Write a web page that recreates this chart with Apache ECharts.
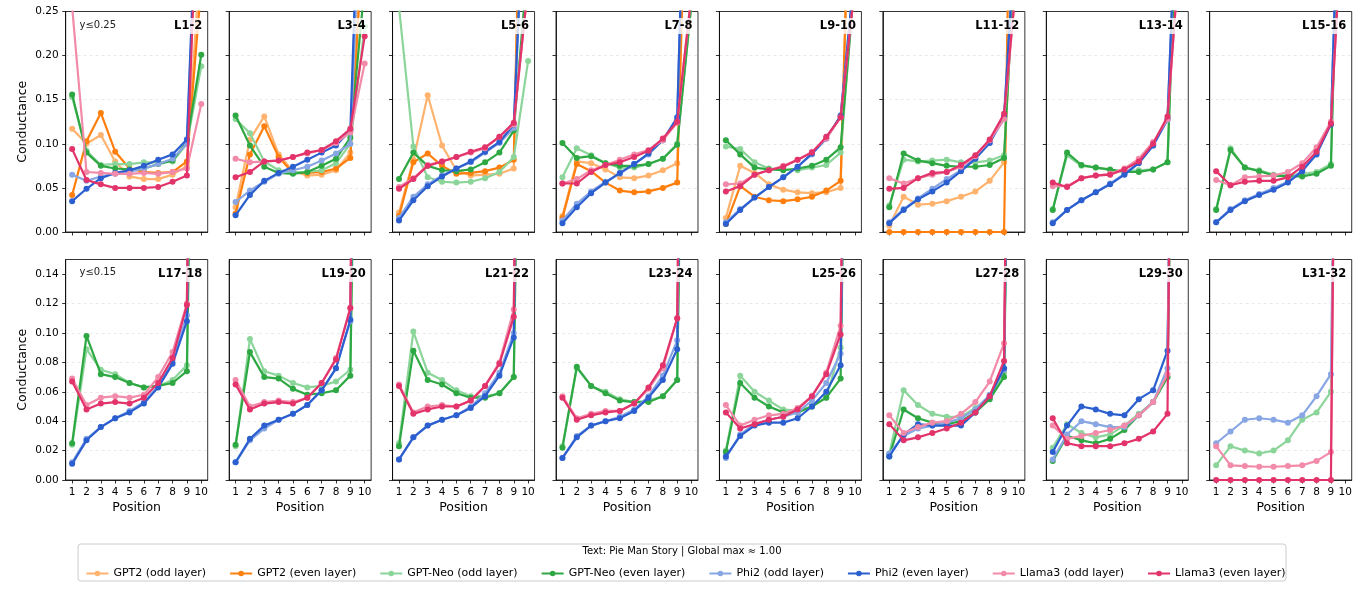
<!DOCTYPE html>
<html>
<head>
<meta charset="utf-8">
<script src="https://cdn.jsdelivr.net/npm/echarts@6/dist/echarts.min.js"></script>
<style>
html,body{margin:0;padding:0;background:#fff;}
#chart{width:1371px;height:614px;}
</style>
</head>
<body>
<div id="chart"></div>
<script>
// ---------------- DATA ----------------
const positions = [1, 2, 3, 4, 5, 6, 7, 8, 9, 10];
const panelTitles = ['L1-2','L3-4','L5-6','L7-8','L9-10','L11-12','L13-14','L15-16',
                     'L17-18','L19-20','L21-22','L23-24','L25-26','L27-28','L29-30','L31-32'];
const yTicksTop = [0, 0.05, 0.10, 0.15, 0.20, 0.25];
const yTicksBottom = [0, 0.02, 0.04, 0.06, 0.08, 0.10, 0.12, 0.14];
const seriesNames = ['GPT2 (odd layer)','GPT2 (even layer)','GPT-Neo (odd layer)','GPT-Neo (even layer)',
                     'Phi2 (odd layer)','Phi2 (even layer)','Llama3 (odd layer)','Llama3 (even layer)'];
const chartTitle = 'Text: Pie Man Story | Global max ≈ 1.00';

// one row per panel (L1-2 ... L31-32), values at positions 1..10
const gpt2Odd = [
  [0.117,0.100,0.110,0.080,0.063,0.060,0.060,0.065,0.075,0.33],
  [0.028,0.105,0.131,0.088,0.069,0.064,0.065,0.070,0.090,0.40],
  [0.022,0.082,0.155,0.098,0.070,0.064,0.065,0.066,0.072,0.80],
  [0.018,0.080,0.078,0.071,0.062,0.061,0.064,0.070,0.078,0.64],
  [0.016,0.075,0.067,0.054,0.048,0.045,0.044,0.045,0.050,0.60],
  [0.007,0.040,0.031,0.032,0.035,0.040,0.046,0.058,0.079,0.40],
  null,null,null,null,null,null,null,null,null,null
];
const gpt2Even = [
  [0.042,0.103,0.135,0.091,0.072,0.068,0.067,0.068,0.080,0.28],
  [0.021,0.088,0.120,0.085,0.067,0.067,0.068,0.072,0.084,0.37],
  [0.018,0.079,0.089,0.075,0.066,0.067,0.069,0.073,0.082,0.81],
  [0.016,0.077,0.069,0.056,0.047,0.045,0.046,0.050,0.056,0.64],
  [0.009,0.052,0.040,0.036,0.035,0.037,0.040,0.047,0.058,0.63],
  [0,0,0,0,0,0,0,0,0,1.0],
  null,null,null,null,null,null,null,null,null,null
];
const neoOdd = [
  [0.153,0.092,0.076,0.077,0.077,0.079,0.079,0.080,0.100,0.188],
  [0.128,0.112,0.080,0.070,0.068,0.068,0.070,0.078,0.100,0.233],
  [0.255,0.097,0.062,0.057,0.056,0.057,0.061,0.068,0.085,0.194],
  [0.062,0.095,0.087,0.078,0.073,0.073,0.077,0.083,0.100,0.26],
  [0.097,0.094,0.079,0.072,0.071,0.070,0.073,0.076,0.090,0.29],
  [0.030,0.082,0.080,0.081,0.082,0.079,0.079,0.081,0.087,0.39],
  [0.026,0.087,0.075,0.073,0.070,0.069,0.070,0.071,0.079,0.53],
  [0.026,0.095,0.073,0.070,0.065,0.064,0.066,0.068,0.077,0.66],
  [0.024,0.089,0.075,0.072,0.066,0.063,0.064,0.068,0.078,0.75],
  [0.023,0.096,0.074,0.071,0.066,0.063,0.064,0.067,0.075,0.75],
  [0.025,0.101,0.073,0.068,0.061,0.057,0.057,0.059,0.070,0.75],
  [0.023,0.076,0.064,0.060,0.055,0.053,0.054,0.057,0.068,0.75],
  [0.020,0.071,0.060,0.054,0.048,0.047,0.050,0.056,0.090,0.75],
  [0.018,0.061,0.051,0.045,0.043,0.043,0.049,0.056,0.073,0.75],
  [0.022,0.038,0.032,0.029,0.031,0.037,0.045,0.053,0.070,0.75],
  [0.010,0.023,0.020,0.018,0.020,0.027,0.041,0.046,0.060,0.75]
];
const neoEven = [
  [0.156,0.090,0.075,0.072,0.071,0.072,0.077,0.081,0.102,0.201],
  [0.132,0.098,0.074,0.067,0.066,0.068,0.075,0.083,0.107,0.28],
  [0.060,0.090,0.075,0.070,0.069,0.071,0.079,0.090,0.115,0.31],
  [0.101,0.084,0.086,0.078,0.075,0.075,0.077,0.083,0.099,0.26],
  [0.104,0.088,0.073,0.071,0.070,0.072,0.075,0.082,0.096,0.29],
  [0.028,0.089,0.081,0.078,0.075,0.074,0.074,0.076,0.084,0.39],
  [0.025,0.090,0.076,0.073,0.071,0.068,0.068,0.071,0.079,0.53],
  [0.025,0.093,0.073,0.069,0.064,0.063,0.063,0.066,0.075,0.66],
  [0.025,0.098,0.072,0.070,0.066,0.063,0.064,0.066,0.074,0.70],
  [0.024,0.087,0.070,0.069,0.062,0.058,0.059,0.061,0.071,0.70],
  [0.023,0.088,0.068,0.065,0.059,0.056,0.056,0.059,0.070,0.70],
  [0.022,0.077,0.064,0.059,0.054,0.053,0.053,0.057,0.068,0.70],
  [0.019,0.066,0.056,0.050,0.046,0.046,0.050,0.056,0.069,0.70],
  [0.016,0.048,0.042,0.039,0.038,0.040,0.046,0.055,0.070,0.70],
  [0.013,0.030,0.027,0.025,0.028,0.034,0.044,0.053,0.070,0.70],
  null
];
const phiOdd = [
  [0.065,0.058,0.063,0.066,0.068,0.072,0.077,0.083,0.100,0.50],
  [0.034,0.047,0.057,0.066,0.070,0.074,0.081,0.089,0.100,0.50],
  [0.016,0.040,0.054,0.064,0.072,0.079,0.090,0.101,0.118,0.49],
  [0.013,0.032,0.046,0.057,0.066,0.077,0.088,0.104,0.128,0.70],
  [0.011,0.026,0.039,0.051,0.062,0.074,0.088,0.106,0.131,0.30],
  [0.011,0.026,0.038,0.049,0.060,0.070,0.084,0.102,0.128,0.40],
  [0.011,0.025,0.036,0.045,0.055,0.066,0.079,0.098,0.127,0.54],
  [0.011,0.026,0.036,0.043,0.050,0.057,0.070,0.090,0.123,0.65],
  [0.012,0.028,0.036,0.042,0.047,0.053,0.064,0.081,0.112,0.80],
  [0.012,0.027,0.035,0.041,0.045,0.051,0.061,0.076,0.108,0.80],
  [0.014,0.029,0.037,0.041,0.044,0.050,0.059,0.073,0.100,0.80],
  [0.015,0.030,0.037,0.040,0.043,0.048,0.057,0.071,0.095,0.80],
  [0.015,0.031,0.038,0.041,0.043,0.046,0.054,0.066,0.086,0.80],
  [0.018,0.030,0.035,0.037,0.039,0.042,0.048,0.058,0.075,0.80],
  [0.014,0.031,0.040,0.038,0.036,0.036,0.044,0.053,0.076,0.80],
  [0.025,0.033,0.041,0.042,0.041,0.039,0.044,0.057,0.072,0.80]
];
const phiEven = [
  [0.035,0.049,0.061,0.067,0.070,0.075,0.082,0.088,0.105,0.52],
  [0.019,0.042,0.058,0.067,0.074,0.082,0.090,0.098,0.115,0.60],
  [0.013,0.036,0.052,0.063,0.072,0.080,0.091,0.102,0.122,0.49],
  [0.010,0.028,0.044,0.056,0.067,0.077,0.089,0.104,0.130,0.70],
  [0.009,0.025,0.039,0.051,0.062,0.074,0.089,0.106,0.132,0.30],
  [0.010,0.025,0.037,0.046,0.056,0.069,0.083,0.101,0.131,0.40],
  [0.010,0.025,0.036,0.045,0.054,0.065,0.078,0.098,0.128,0.54],
  [0.011,0.025,0.035,0.042,0.048,0.056,0.069,0.088,0.122,0.65],
  [0.011,0.027,0.036,0.042,0.046,0.052,0.063,0.079,0.108,0.80],
  [0.012,0.028,0.037,0.041,0.045,0.051,0.061,0.076,0.109,0.80],
  [0.014,0.029,0.037,0.041,0.044,0.049,0.057,0.071,0.097,0.80],
  [0.015,0.029,0.037,0.040,0.042,0.047,0.056,0.068,0.089,0.80],
  [0.016,0.030,0.037,0.039,0.039,0.042,0.050,0.060,0.078,0.80],
  [0.016,0.031,0.038,0.037,0.037,0.037,0.046,0.057,0.076,0.80],
  [0.019,0.037,0.050,0.048,0.045,0.044,0.055,0.061,0.088,0.80],
  null
];
const llamaOdd = [
  [0.255,0.068,0.067,0.066,0.066,0.067,0.066,0.068,0.072,0.145],
  [0.083,0.079,0.080,0.081,0.085,0.089,0.093,0.101,0.113,0.191],
  [0.051,0.061,0.076,0.080,0.085,0.090,0.095,0.108,0.122,0.28],
  [0.055,0.060,0.070,0.076,0.082,0.088,0.093,0.104,0.124,0.27],
  [0.054,0.055,0.065,0.070,0.075,0.082,0.091,0.106,0.130,0.28],
  [0.061,0.055,0.061,0.065,0.068,0.074,0.086,0.104,0.128,0.31],
  [0.052,0.052,0.061,0.064,0.066,0.072,0.083,0.102,0.128,0.35],
  [0.059,0.053,0.062,0.063,0.064,0.068,0.078,0.096,0.125,0.42],
  [0.069,0.051,0.056,0.057,0.056,0.058,0.070,0.087,0.120,0.90],
  [0.068,0.050,0.053,0.054,0.053,0.056,0.066,0.083,0.117,0.90],
  [0.065,0.046,0.050,0.051,0.050,0.054,0.064,0.080,0.116,0.90],
  [0.057,0.042,0.045,0.047,0.047,0.052,0.062,0.076,0.110,0.90],
  [0.051,0.037,0.041,0.044,0.045,0.049,0.057,0.073,0.105,0.90],
  [0.044,0.032,0.036,0.039,0.040,0.045,0.053,0.067,0.093,0.90],
  [0.037,0.028,0.030,0.032,0.034,0.037,0.044,0.053,0.072,0.90],
  [0.023,0.010,0.0095,0.009,0.009,0.0095,0.010,0.013,0.019,0.90]
];
const llamaEven = [
  [0.094,0.059,0.054,0.050,0.050,0.050,0.051,0.057,0.064,0.51],
  [0.062,0.068,0.080,0.081,0.085,0.090,0.093,0.103,0.117,0.222],
  [0.049,0.060,0.075,0.080,0.085,0.091,0.096,0.108,0.124,0.28],
  [0.055,0.055,0.068,0.076,0.079,0.085,0.092,0.106,0.125,0.27],
  [0.046,0.052,0.065,0.070,0.074,0.082,0.090,0.108,0.130,0.28],
  [0.049,0.050,0.061,0.067,0.068,0.076,0.087,0.105,0.134,0.31],
  [0.056,0.051,0.061,0.064,0.065,0.071,0.080,0.100,0.131,0.35],
  [0.069,0.053,0.057,0.058,0.058,0.062,0.074,0.091,0.123,0.42],
  [0.067,0.048,0.052,0.053,0.052,0.056,0.066,0.083,0.119,1.0],
  [0.065,0.048,0.052,0.053,0.052,0.056,0.066,0.082,0.117,1.0],
  [0.064,0.045,0.048,0.050,0.050,0.054,0.064,0.079,0.111,1.0],
  [0.056,0.041,0.044,0.046,0.047,0.052,0.063,0.078,0.110,1.0],
  [0.046,0.035,0.038,0.041,0.043,0.048,0.057,0.072,0.099,1.0],
  [0.038,0.027,0.029,0.032,0.035,0.039,0.046,0.057,0.081,1.0],
  [0.042,0.025,0.023,0.023,0.023,0.025,0.028,0.033,0.045,1.0],
  [0,0,0,0,0,0,0,0,0,1.0]
];

// ---------------- STYLE / LAYOUT ----------------
const seriesData = [gpt2Odd, gpt2Even, neoOdd, neoEven, phiOdd, phiEven, llamaOdd, llamaEven];
const colors = ['#ffb36e','#ff7f0e','#8cd59a','#2ea843','#88a6e4','#2b5fd0','#f28ba9','#e2336a'];
const FONT = 'DejaVu Sans';
const gridLeft0 = 65.7, gridStep = 163.43, gridW = 142;
const rowTop = [11.5, 259.5], gridH = 220.5;
const rowMax = [0.25, 0.15];
const rowTicks = [yTicksTop, yTicksBottom];
const rowInterval = [0.05, 0.02];

const grids = [], xAxes = [], yAxes = [], series = [], graphics = [];
for (let p = 0; p < 16; p++) {
  const row = Math.floor(p / 8), col = p % 8;
  const left = gridLeft0 + col * gridStep, top = rowTop[row];
  grids.push({left: left, top: top, width: gridW, height: gridH,
    show: true, borderColor: '#000', borderWidth: 0.8, backgroundColor: 'transparent', containLabel: false});
  xAxes.push({
    type: 'value', gridIndex: p, min: 0.55, max: 10.45,
    axisLine: {show: true, onZero: false, lineStyle: {color: '#000', width: 0.8}},
    axisTick: {show: true, length: 3.5, customValues: positions, lineStyle: {color: '#000', width: 0.8}},
    axisLabel: {show: row === 1, customValues: positions, margin: 7, fontSize: 10.5, color: '#000', fontFamily: FONT},
    splitLine: {show: false},
    name: row === 1 ? 'Position' : '', nameLocation: 'middle', nameGap: 21,
    nameTextStyle: {fontSize: 12.5, color: '#000', fontFamily: FONT}
  });
  yAxes.push({
    type: 'value', gridIndex: p, min: 0, max: rowMax[row], interval: rowInterval[row],
    axisLine: {show: true, lineStyle: {color: '#000', width: 0.8}},
    axisTick: {show: true, length: 3.5, customValues: rowTicks[row], lineStyle: {color: '#000', width: 0.8}},
    axisLabel: {show: col === 0, customValues: rowTicks[row], showMaxLabel: true, showMinLabel: true, margin: 7,
      fontSize: 10.5, color: '#000', fontFamily: FONT, formatter: v => v.toFixed(2)},
    splitLine: {show: true, showMaxLine: false, showMinLine: false,
      lineStyle: {color: '#dcdcdc', width: 0.6, type: [3, 3]}},
    name: col === 0 ? 'Conductance' : '', nameLocation: 'middle', nameGap: 36, nameRotate: 90,
    nameTextStyle: {fontSize: 12.5, color: '#000', fontFamily: FONT}
  });
  for (let s = 0; s < 8; s++) {
    const vals = seriesData[s][p];
    if (!vals) continue;
    series.push({
      type: 'line', name: seriesNames[s], xAxisIndex: p, yAxisIndex: p,
      data: positions.map((x, k) => [x, vals[k]]),
      symbol: 'circle', symbolSize: 6, showSymbol: true, clip: true,
      lineStyle: {width: 2.2, color: colors[s]}, itemStyle: {color: colors[s]},
      emphasis: {disabled: true}, animation: false, z: 2 + s
    });
  }
  graphics.push({
    type: 'text', z: 100, x: left + gridW - 3.5, y: top + (row === 0 ? 14.5 : 14.5),
    style: {text: panelTitles[p], font: 'bold 11.5px "DejaVu Sans"', fill: '#000',
      align: 'right', verticalAlign: 'middle', backgroundColor: 'rgba(255,255,255,0.8)', padding: [2, 2]}
  });
}
graphics.push({type: 'text', z: 100, x: 79.5, y: 25,
  style: {text: 'y≤0.25', font: '10px "DejaVu Sans"', fill: '#222', align: 'left', verticalAlign: 'middle',
    backgroundColor: 'rgba(255,255,255,0.8)'}});
graphics.push({type: 'text', z: 100, x: 79.5, y: 272,
  style: {text: 'y≤0.15', font: '10px "DejaVu Sans"', fill: '#222', align: 'left', verticalAlign: 'middle',
    backgroundColor: 'rgba(255,255,255,0.8)'}});
// legend frame + title
graphics.push({type: 'rect', z: -1, shape: {x: 78, y: 544, width: 1208, height: 37, r: 3},
  style: {fill: '#fff', stroke: '#cccccc', lineWidth: 1}});
graphics.push({type: 'text', z: 100, x: 682, y: 551.5,
  style: {text: chartTitle, font: '10px "DejaVu Sans"', fill: '#000', align: 'center', verticalAlign: 'middle'}});

const chart = echarts.init(document.getElementById('chart'), null, {renderer: 'canvas'});
chart.setOption({
  animation: false,
  backgroundColor: '#fff',
  grid: grids, xAxis: xAxes, yAxis: yAxes, series: series,
  legend: {
    data: seriesNames, left: 'center', top: 563, itemWidth: 22, itemHeight: 7, itemGap: 23,
    textStyle: {fontSize: 11, color: '#000', fontFamily: FONT}, selectedMode: false
  },
  graphic: graphics
});
</script>
</body>
</html>
